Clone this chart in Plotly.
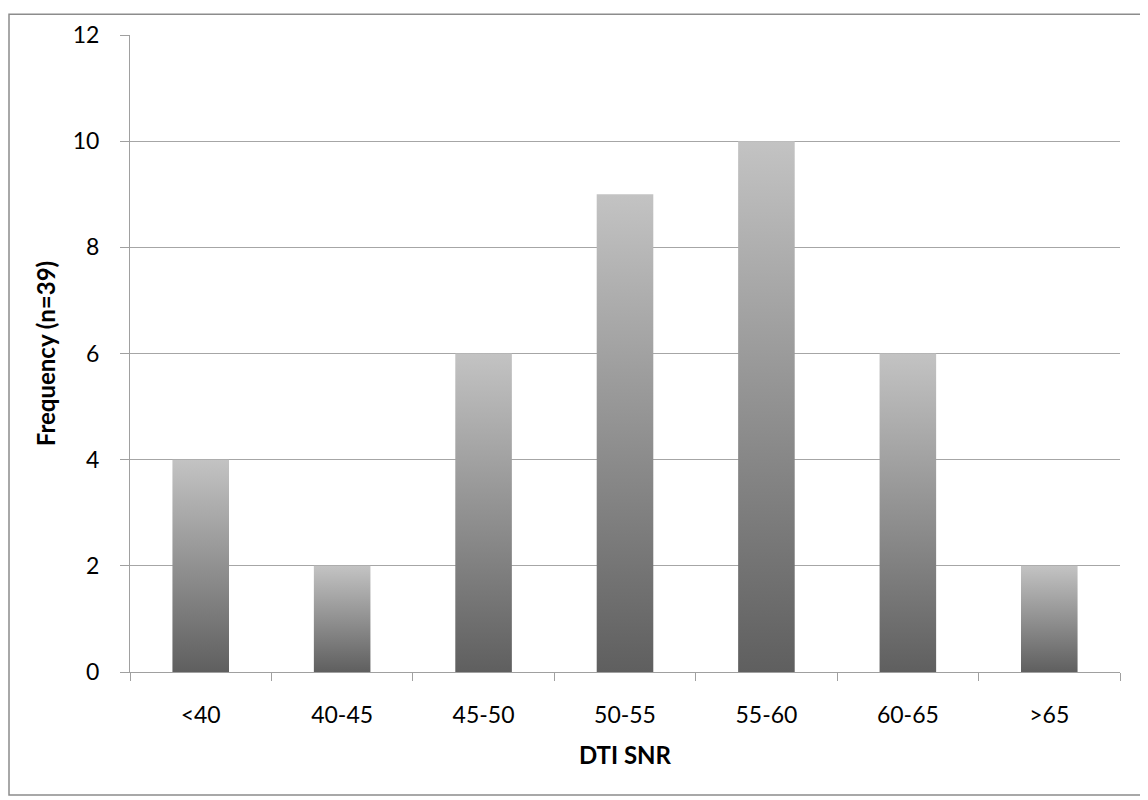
import plotly.graph_objects as go

categories = ["<40", "40-45", "45-50", "50-55", "55-60", "60-65", ">65"]
frequency = [4, 2, 6, 9, 10, 6, 2]

# the page puts the figure 8px in from the top-left corner
W, H = 1140, 792
ml, mr, mt, mb = 122, 28, 22, 128
half = 0.2  # half bar width in category units

fig = go.Figure()

# bars drawn as filled shapes so each can carry a vertical gradient
for i, v in enumerate(frequency):
    fig.add_trace(go.Scatter(
        x=[i - half, i + half, i + half, i - half, i - half],
        y=[0, 0, v, v, 0],
        mode="lines",
        line=dict(width=0),
        fill="toself",
        fillgradient=dict(type="vertical",
                          colorscale=[[0, "#5f5f5f"], [1, "#c3c3c3"]]),
        hoverinfo="skip",
        showlegend=False,
    ))

font = "Lato, 'Open Sans', sans-serif"

fig.update_layout(
    width=W, height=H,
    margin=dict(l=ml, r=mr, t=mt, b=mb),
    plot_bgcolor="white",
    paper_bgcolor="white",
    font=dict(family=font, size=23, color="black"),
    xaxis=dict(
        range=[-0.5, len(categories) - 0.5],
        tickvals=list(range(len(categories))),
        ticktext=categories,
        ticks="",
        showgrid=False,
        zeroline=False,
        showline=True,
        linecolor="#a0a0a0",
        linewidth=1,
        ticklabelstandoff=22,
        minor=dict(tickvals=[i - 0.5 for i in range(len(categories) + 1)],
                   ticks="outside", ticklen=8, tickcolor="#a0a0a0", tickwidth=1),
        title=dict(text="<b>DTI SNR</b>", font=dict(size=24), standoff=20),
        fixedrange=True,
    ),
    yaxis=dict(
        range=[0, 12],
        dtick=2,
        ticks="outside",
        ticklen=9,
        tickcolor="#a0a0a0",
        showgrid=True,
        gridcolor="#a6a6a6",
        gridwidth=1,
        zeroline=False,
        showline=True,
        linecolor="#a0a0a0",
        linewidth=1,
        ticklabelstandoff=16,
        title=dict(text="<b>Frequency (n=39)</b>", font=dict(size=24), standoff=10),
        fixedrange=True,
    ),
)

# thin frame around the whole chart
pw = W - ml - mr
ph = H - mt - mb
fig.add_shape(
    type="rect", xref="paper", yref="paper",
    x0=(1 - ml) / pw, x1=(W - 4 - ml) / pw,
    y0=-(mb - 4) / ph, y1=1 + (mt - 1) / ph,
    line=dict(color="#8c8c8c", width=1.5),
    fillcolor="rgba(0,0,0,0)",
    layer="below",
)

fig.write_html("out.html")
